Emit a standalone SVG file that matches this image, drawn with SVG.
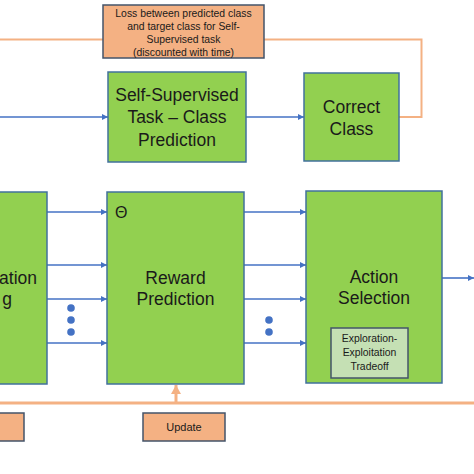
<svg xmlns="http://www.w3.org/2000/svg" width="474" height="474" viewBox="0 0 474 474">
<defs>
<style>
.g{fill:#92d050;stroke:#41719c;stroke-width:1.5}
.o{fill:#f4b183;stroke:#44546a;stroke-width:1.5}
.lg{fill:#c5e0b4;stroke:#44546a;stroke-width:1.5}
.t{font-family:"Liberation Sans",Arial,sans-serif;fill:#1a1a1a;text-anchor:middle}
.big{font-size:17.5px}
.sm{font-size:10.4px}
.bl{stroke:#4472c4;stroke-width:1.6;fill:none}
.or{stroke:#f4b183;stroke-width:2;fill:none}
</style>
<marker id="ab" markerWidth="8" markerHeight="8" refX="6" refY="3" orient="auto" markerUnits="userSpaceOnUse"><path d="M0,0 L6,3 L0,6 z" fill="#4472c4"/></marker>
<marker id="ao" markerWidth="12" markerHeight="12" refX="9" refY="5" orient="auto" markerUnits="userSpaceOnUse"><path d="M0,0 L9,5 L0,10 z" fill="#f4b183"/></marker>
</defs>
<rect width="474" height="474" fill="#fff"/>
<g id="connectors">
<path class="or" d="M0,39.5 H103 M264,39.5 H421.5 V117 H399"/>
<path class="bl" d="M0,117 H108" marker-end="url(#ab)"/>
<path class="bl" d="M246,117 H304" marker-end="url(#ab)"/>
<path class="bl" d="M47,212 H107" marker-end="url(#ab)"/>
<path class="bl" d="M47,265 H107" marker-end="url(#ab)"/>
<path class="bl" d="M47,299 H107" marker-end="url(#ab)"/>
<path class="bl" d="M47,343 H107" marker-end="url(#ab)"/>
<path class="bl" d="M244,212 H306" marker-end="url(#ab)"/>
<path class="bl" d="M244,265 H306" marker-end="url(#ab)"/>
<path class="bl" d="M244,299 H306" marker-end="url(#ab)"/>
<path class="bl" d="M244,343 H306" marker-end="url(#ab)"/>
<path class="bl" d="M442,278 H474" marker-end="url(#ab)"/>
<path d="M0,403 H474" stroke="#f4b183" stroke-width="3" fill="none"/>
<path d="M176,403 V385" stroke="#f4b183" stroke-width="3" fill="none" marker-end="url(#ao)"/>
<g fill="#4472c4">
<circle cx="71" cy="308" r="3.8"/><circle cx="71" cy="320" r="3.8"/><circle cx="71" cy="332" r="3.8"/>
<circle cx="269" cy="320" r="3.8"/><circle cx="269" cy="332" r="3.8"/>
</g>
</g>
<g id="loss">
<rect class="o" x="103" y="5" width="161" height="53"/>
<text class="t sm" x="183.5" y="17">Loss between predicted class</text>
<text class="t sm" x="183.5" y="30">and target class for Self-</text>
<text class="t sm" x="183.5" y="43">Supervised task</text>
<text class="t sm" x="183.5" y="56">(discounted with time)</text>
</g>
<g id="selfsup">
<rect class="g" x="108" y="72" width="138" height="90"/>
<text class="t big" x="177" y="101">Self-Supervised</text>
<text class="t big" x="177" y="123">Task – Class</text>
<text class="t big" x="177" y="146">Prediction</text>
</g>
<g id="correct">
<rect class="g" x="304" y="73" width="95" height="88"/>
<text class="t big" x="351.5" y="113">Correct</text>
<text class="t big" x="351.5" y="135">Class</text>
</g>
<g id="repr">
<rect class="g" x="-60" y="192" width="107" height="192"/>
<text class="t big" x="37" y="284" style="text-anchor:end">ation</text>
<text class="t big" x="12" y="305" style="text-anchor:end">g</text>
</g>
<g id="reward">
<rect class="g" x="107" y="192" width="137" height="192"/>
<text class="t" x="115" y="218" style="text-anchor:start;font-size:16px">Θ</text>
<text class="t big" x="175.5" y="284">Reward</text>
<text class="t big" x="175.5" y="305">Prediction</text>
</g>
<g id="action">
<rect class="g" x="306" y="191" width="136" height="192"/>
<text class="t big" x="374" y="283">Action</text>
<text class="t big" x="374" y="304">Selection</text>
</g>
<g id="tradeoff">
<rect class="lg" x="331" y="328" width="77" height="50"/>
<text class="t sm" x="369.5" y="342">Exploration-</text>
<text class="t sm" x="369.5" y="356">Exploitation</text>
<text class="t sm" x="369.5" y="370">Tradeoff</text>
</g>
<g id="leftbox">
<rect class="o" x="-40" y="413" width="64" height="28"/>
</g>
<g id="update">
<rect class="o" x="143" y="413" width="82" height="28"/>
<text class="t" x="184" y="431" style="font-size:11px">Update</text>
</g>
</svg>
